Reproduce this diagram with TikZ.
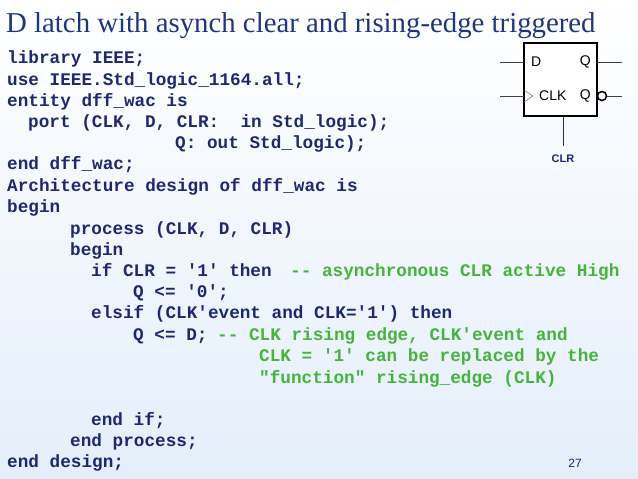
\documentclass[tikz,border=0pt]{standalone}
\usepackage{fontspec}
\setmainfont{Liberation Serif}
\setsansfont{Liberation Sans}
\setmonofont{Liberation Mono}
\definecolor{navy}{RGB}{31,40,110}
\definecolor{titleblue}{RGB}{30,55,120}
\definecolor{cmtgreen}{RGB}{70,180,60}
\definecolor{bgblue}{RGB}{228,238,250}
\tikzset{
  code/.style={anchor=base west, inner sep=0pt, text=navy, font=\fontsize{17.7}{17.7}\selectfont\ttfamily\bfseries},
  cmt/.style={code, text=cmtgreen},
  pin/.style={line width=0.9pt, draw=black!75},
  ff/.style={inner sep=0pt, font=\sffamily\fontsize{14}{14}\selectfont},
}
\begin{document}
\begin{tikzpicture}[x=1pt,y=-1pt]
  \shade[top color=white, bottom color=bgblue] (0,0) rectangle (638,479);
  \useasboundingbox (0,0) rectangle (638,479);
  \node[anchor=base west, inner sep=0pt, text=titleblue, font=\fontsize{28.8}{28.8}\selectfont] (title) at (6,32) {D latch with asynch clear and rising-edge triggered};
  % code
  \node[code] (l1) at (7,63) {library IEEE;};
  \node[code] (l2) at (7,85) {use IEEE.Std\_logic\_1164.all;};
  \node[code] (l3) at (7,106) {entity dff\_wac is};
  \node[code] (l4) at (28,127) {port (CLK, D, CLR:\ \ in Std\_logic);};
  \node[code] (l5) at (175,148) {Q: out Std\_logic);};
  \node[code] (l6) at (7,169) {end dff\_wac;};
  \node[code] (l7) at (7,191) {Architecture design of dff\_wac is};
  \node[code] (l8) at (7,212) {begin};
  \node[code] (l9) at (70,234) {process (CLK, D, CLR)};
  \node[code] (l10) at (70,255) {begin};
  \node[code] (l11) at (91,276) {if CLR = '1' then};
  \node[cmt] (c11) at (290,276) {-- asynchronous CLR active High};
  \node[code] (l12) at (133,297) {Q <= '0';};
  \node[code] (l13) at (91,318) {elsif (CLK'event and CLK='1') then};
  \node[code] (l14) at (133,340) {Q <= D;};
  \node[cmt] (c14) at (217,340) {-- CLK rising edge, CLK'event and};
  \node[cmt] (c15) at (259,361) {CLK = '1' can be replaced by the};
  \node[cmt] (c16) at (259,383) {"function" rising\_edge (CLK)};
  \node[code] (l17) at (91,425) {end if;};
  \node[code] (l18) at (70,446) {end process;};
  \node[code] (l19) at (7,467) {end design;};
  \node[anchor=base, inner sep=0pt, font=\sffamily\fontsize{12}{12}\selectfont, text=navy] (page) at (575,467) {27};
  % flip-flop symbol
  \draw[line width=1.3pt, fill=white] (524,43) rectangle (597,116);
  \node[ff, anchor=west] (d) at (531,62) {D};
  \node[ff, anchor=west] (clk) at (539,96) {CLK};
  \node[ff, anchor=east] (q) at (591,62) {Q};
  \node[ff, anchor=east] (qn) at (591,96) {Q};
  \coordinate (din) at (500,62);
  \coordinate (clkin) at (500,96);
  \coordinate (qout) at (622,62);
  \coordinate (qnout) at (622,96);
  \draw[pin] (din) -- (524,62);
  \draw[pin] (clkin) -- (524,96);
  \draw[line width=0.5pt, draw=black!60] (524,90) -- (533,96) -- (524,102);
  \draw[pin] (597,62) -- (qout);
  \draw[line width=1.5pt] (602,96) circle (4.5);
  \draw[pin] (606.5,96) -- (qnout);
  \node[inner sep=0pt, font=\sffamily\bfseries\fontsize{11}{11}\selectfont, text=navy] (clr) at (563,159) {CLR};
  \draw[line width=1pt, draw=navy] (563,116) -- (563,146);
\end{tikzpicture}
\end{document}
